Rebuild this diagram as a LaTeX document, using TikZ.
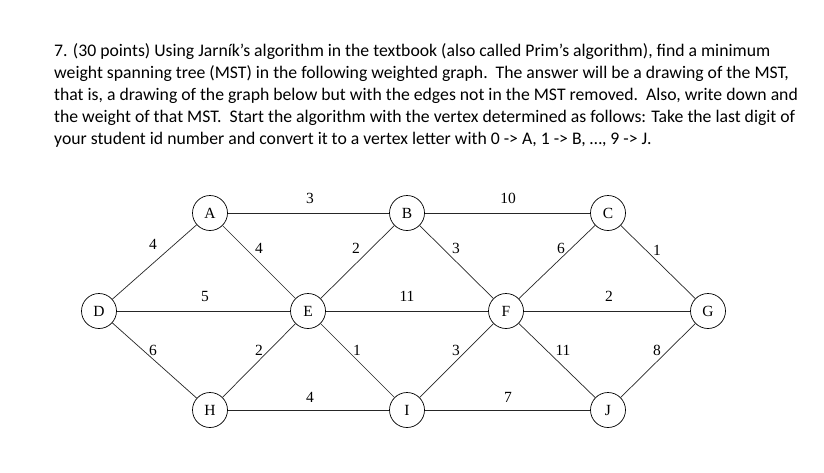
\documentclass[tikz,border=0pt]{standalone}
\usepackage{fontspec}
\setmainfont{Carlito}
\newfontfamily\serifg{Liberation Serif}
\begin{document}
\begin{tikzpicture}[x=1pt,y=-1pt,
  txt/.style={anchor=base west,inner sep=0,font=\fontsize{17.7}{20}\selectfont},
  vtx/.style={draw,circle,minimum size=35pt,inner sep=0,font=\serifg\fontsize{15.5}{17}\selectfont,line width=0.7pt},
  wt/.style={font=\serifg\fontsize{15.5}{17}\selectfont,inner sep=1pt},
  ed/.style={line width=0.7pt,draw=black!85}]
\fill[white] (0,0) rectangle (824,472);
\node[txt] (t1) at (54,56) {7. (30 points) Using Jarník’s algorithm in the textbook (also called Prim’s algorithm), find a minimum};
\node[txt] (t2) at (54,78) {weight spanning tree (MST) in the following weighted graph.\ \ The answer will be a drawing of the MST,};
\node[txt] (t3) at (54,100) {that is, a drawing of the graph below but with the edges not in the MST removed.\ \ Also, write down and};
\node[txt] (t4) at (54,122) {the weight of that MST.\ \ Start the algorithm with the vertex determined as follows: Take the last digit of};
\node[txt] (t5) at (54,144) {your student id number and convert it to a vertex letter with 0 -> A, 1 -> B, …, 9 -> J.};
\node[vtx] (A) at (210,213) {A};
\node[vtx] (B) at (407,213) {B};
\node[vtx] (C) at (608,213) {C};
\node[vtx] (D) at (99,311) {D};
\node[vtx] (E) at (308,311) {E};
\node[vtx] (F) at (506,311) {F};
\node[vtx] (G) at (708,311) {G};
\node[vtx] (H) at (210,410) {H};
\node[vtx] (I) at (407,410) {I};
\node[vtx] (J) at (608,410) {J};
\foreach \a/\b in {A/B,B/C,A/D,A/E,B/E,B/F,C/F,C/G,D/E,E/F,F/G,D/H,E/H,E/I,F/I,F/J,G/J,H/I,I/J}
  \draw[ed] (\a) -- (\b);
\foreach \p/\t [count=\i] in {{310,198}/3,{508,198}/10,{153,244}/4,{259,248}/4,{356,248}/2,{456,248}/3,{561,248}/6,{657,250}/1,
  {205,296}/5,{407,296}/11,{609,296}/2,{153,350}/6,{259,350}/2,{357,350}/1,{456,350}/3,{563,350}/11,{657,350}/8,{310,397}/4,{508,397}/7}
  \node[wt] (w\i) at (\p) {\t};
\end{tikzpicture}
\end{document}
